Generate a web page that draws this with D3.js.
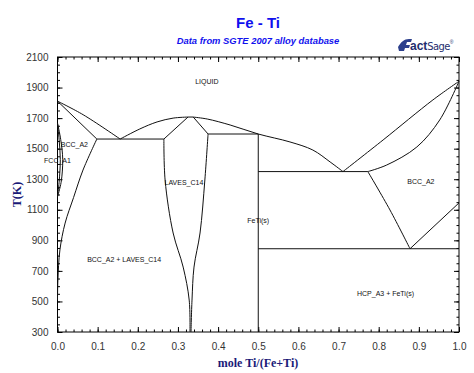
<!DOCTYPE html>
<html>
<head>
<meta charset="utf-8">
<script src="https://cdn.jsdelivr.net/npm/d3@7"></script>
<style>
  body { margin: 0; background: #fff; }
  svg { display: block; }
</style>
</head>
<body>
<svg id="chart" width="474" height="373"></svg>
<script>
// phase boundaries, [mole Ti/(Fe+Ti), T(K)]
const liquidusFe = [[0, 1811], [0.064, 1722], [0.156, 1563]];
const solidusFe = [[0, 1811], [0.098, 1563]];
const bccFeSolvus = [[0.098, 1563], [0.0635, 1360], [0.04, 1180], [0.019, 1013], [0.006, 837], [0.001, 640], [0, 509]];
const gammaOuter = [[0, 1667], [0.008, 1560], [0.013, 1430], [0.009, 1280], [0, 1185]];
const gammaInner = [[0, 1667], [0.004, 1560], [0.007, 1430], [0.004, 1280], [0, 1185]];
const liquidusMid = [[0.156, 1563], [0.205, 1629], [0.248, 1675], [0.288, 1700], [0.325, 1707]];
const liquidusRight = [[0.338, 1707], [0.373, 1694], [0.43, 1655], [0.5, 1596], [0.579, 1544], [0.636, 1491], [0.679, 1413], [0.711, 1350]];
const lavesTopLeft = [[0.265, 1563], [0.325, 1707]];
const lavesTopRight = [[0.338, 1707], [0.375, 1596]];
const lavesLeft = [[0.265, 1563], [0.268, 1295], [0.288, 948], [0.313, 725], [0.328, 509], [0.330, 300]];
const lavesRight = [[0.375, 1596], [0.367, 1295], [0.355, 948], [0.340, 725], [0.335, 509], [0.3325, 300]];
const liquidusTi = [[0.711, 1350], [0.811, 1557], [0.935, 1819], [1, 1941]];
const solidusTi = [[0.773, 1350], [0.82, 1393], [0.895, 1511], [0.952, 1688], [1, 1941]];
const bccTiSolvus = [[0.773, 1350], [0.828, 1099], [0.878, 845]];
const hcpTransus = [[0.878, 845], [1, 1145]];
const isotherms = [
  [[0.098, 1563], [0.265, 1563]],
  [[0.375, 1596], [0.5, 1596]],
  [[0.5, 1350], [0.773, 1350]],
  [[0.5, 845], [1, 845]],
  [[0.5, 1596], [0.5, 300]]
];
const regionLabels = [
  ["LIQUID", 0.372, 1925],
  ["BCC_A2", 0.042, 1511],
  ["FCC_A1", 0, 1406],
  ["LAVES_C14", 0.315, 1262],
  ["FeTi(s)", 0.5, 1013],
  ["BCC_A2", 0.905, 1269],
  ["BCC_A2 + LAVES_C14", 0.166, 758],
  ["HCP_A3 + FeTi(s)", 0.817, 536]
];
const xTicks = d3.range(0, 1.0001, 0.1);
const yTicks = d3.range(300, 2101, 200);

const svg = d3.select("#chart");
const x = d3.scaleLinear().domain([0, 1]).range([57.5, 459]);
const y = d3.scaleLinear().domain([300, 2100]).range([332, 57]);

// titles
svg.append("text").attr("x", 258).attr("y", 28).attr("text-anchor", "middle")
  .attr("font-family", "Liberation Sans, Arial, sans-serif").attr("font-weight", "bold")
  .attr("font-size", 15).attr("fill", "#1010ee").text("Fe - Ti");
svg.append("text").attr("x", 258).attr("y", 44).attr("text-anchor", "middle")
  .attr("font-family", "Liberation Sans, Arial, sans-serif").attr("font-weight", "bold")
  .attr("font-style", "italic").attr("font-size", 9.4).attr("fill", "#1010ee")
  .text("Data from SGTE 2007 alloy database");

// logo
const logo = svg.append("g").attr("transform", "translate(398,50)");
logo.append("path").attr("d", "M0,-3 C3,-8 6,-11 11,-11 L14,-11 L13,-8 L9,-8 L8,-5 L12,-5 L11,-2 L7,-2 L6,1 L1,1 Z")
  .attr("fill", "#2c3f8c");
const logoText = logo.append("text").attr("x", 12).attr("y", 0)
  .attr("font-family", "Liberation Sans, Arial, sans-serif").attr("fill", "#1f2d6e");
logoText.append("tspan").attr("font-weight", "bold").attr("font-size", 12).text("act");
logoText.append("tspan").attr("font-family", "DejaVu Sans Condensed, Liberation Sans Narrow, sans-serif")
  .attr("font-size", 11).attr("letter-spacing", -0.6).text("Sage");
logoText.append("tspan").attr("font-size", 5).attr("dy", -6).text("®");

// axes with inward ticks
const tickFont = g => g.selectAll("text").attr("font-family", "Liberation Sans, Arial, sans-serif")
  .attr("font-size", 10).attr("fill", "#333");
const strip = g => { g.select(".domain").remove(); g.selectAll("line").attr("stroke", "#000"); };

const xMinor = d3.range(0, 1.0001, 0.02);
const yMinor = d3.range(300, 2101, 50);

svg.append("g").attr("transform", `translate(0,${y(300)})`)
  .call(d3.axisBottom(x).tickValues(xMinor).tickSize(-2.5).tickFormat(""))
  .call(strip);
svg.append("g").attr("transform", `translate(0,${y(300)})`)
  .call(d3.axisBottom(x).tickValues(xTicks).tickSize(-5).tickPadding(11).tickFormat(d3.format(".1f")))
  .call(strip).call(tickFont);
svg.append("g").attr("transform", `translate(0,${y(2100)})`)
  .call(d3.axisTop(x).tickValues(xMinor).tickSize(-2.5).tickFormat("")).call(strip);
svg.append("g").attr("transform", `translate(0,${y(2100)})`)
  .call(d3.axisTop(x).tickValues(xTicks).tickSize(-5).tickFormat("")).call(strip);

svg.append("g").attr("transform", `translate(${x(0)},0)`)
  .call(d3.axisLeft(y).tickValues(yMinor).tickSize(-2.5).tickFormat("")).call(strip);
svg.append("g").attr("transform", `translate(${x(0)},0)`)
  .call(d3.axisLeft(y).tickValues(yTicks).tickSize(-5).tickPadding(9).tickFormat(d3.format("d")))
  .call(strip).call(tickFont);
svg.append("g").attr("transform", `translate(${x(1)},0)`)
  .call(d3.axisRight(y).tickValues(yMinor).tickSize(-2.5).tickFormat("")).call(strip);
svg.append("g").attr("transform", `translate(${x(1)},0)`)
  .call(d3.axisRight(y).tickValues(yTicks).tickSize(-5).tickFormat("")).call(strip);

svg.append("rect").attr("x", x(0)).attr("y", y(2100))
  .attr("width", x(1) - x(0)).attr("height", y(300) - y(2100))
  .attr("fill", "none").attr("stroke", "#000").attr("stroke-width", 1);

// axis titles
svg.append("text").attr("transform", `translate(21,${y(1200)}) rotate(-90)`)
  .attr("text-anchor", "middle").attr("font-family", "Liberation Serif, Times New Roman, serif")
  .attr("font-weight", "bold").attr("font-size", 12).attr("fill", "#1a1a78").text("T(K)");
svg.append("text").attr("x", 258).attr("y", 367).attr("text-anchor", "middle")
  .attr("font-family", "Liberation Serif, Times New Roman, serif")
  .attr("font-weight", "bold").attr("font-size", 12).attr("fill", "#1a1a78").text("mole Ti/(Fe+Ti)");

// boundaries
const smooth = d3.line().x(d => x(d[0])).y(d => y(d[1])).curve(d3.curveCatmullRom.alpha(0.5));
const straight = d3.line().x(d => x(d[0])).y(d => y(d[1]));
const plot = svg.append("g").attr("fill", "none").attr("stroke", "#111").attr("stroke-width", 1);

[liquidusFe, bccFeSolvus, gammaOuter, gammaInner, liquidusMid, liquidusRight,
 lavesLeft, lavesRight, liquidusTi, solidusTi, bccTiSolvus].forEach(d => {
  plot.append("path").attr("d", smooth(d));
});
[solidusFe, lavesTopLeft, lavesTopRight, hcpTransus, [[0.325, 1707], [0.338, 1707]]].concat(isotherms)
  .forEach(d => plot.append("path").attr("d", straight(d)));

// region labels
svg.append("g").selectAll("text").data(regionLabels).join("text")
  .attr("x", d => x(d[1])).attr("y", d => y(d[2])).attr("text-anchor", "middle")
  .attr("font-family", "Liberation Sans, Arial, sans-serif").attr("font-size", 7)
  .attr("fill", "#111").text(d => d[0]);
</script>
</body>
</html>
